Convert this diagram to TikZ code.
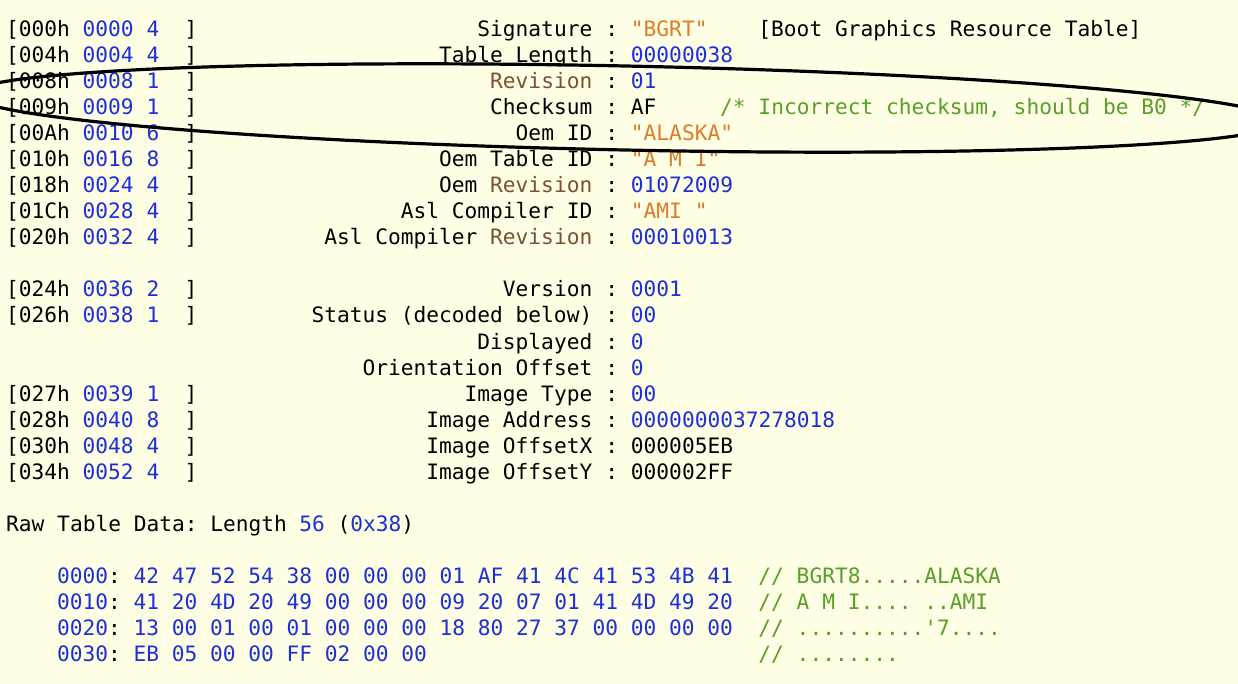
\documentclass[tikz,border=0pt]{standalone}
\usepackage{fontspec}
\setmonofont{DejaVu Sans Mono}
\definecolor{bg}{HTML}{FFFFE6}
\definecolor{hb}{HTML}{1F2FD8}
\definecolor{ho}{HTML}{E07A28}
\definecolor{hr}{HTML}{7A5030}
\definecolor{hg}{HTML}{5A9E28}
\newcommand\tx[4]{\node[anchor=base west,inner sep=0,text=#3] at ({6+12.75*#1},{-(37+26*#2)}) {#4};}
\newcommand\nm[2]{\node[anchor=base east,inner sep=0] at ({6+12.75*46},{-(37+26*#1)}) {#2};\tx{47}{#1}{black}{:}}
\newcommand\lf[3]{\tx{0}{#1}{black}{[#2}\tx{6}{#1}{hb}{#3}\tx{14}{#1}{black}{]}}
\begin{document}
\begin{tikzpicture}[x=1pt,y=1pt,font=\ttfamily\fontsize{21.2}{26}\selectfont]
\fill[bg] (0,0) rectangle (1238,-684);
\useasboundingbox (0,0) rectangle (1238,-684);
% left column
\lf{0}{000h}{0000   4}\lf{1}{004h}{0004   4}\lf{2}{008h}{0008   1}\lf{3}{009h}{0009   1}
\lf{4}{00Ah}{0010   6}\lf{5}{010h}{0016   8}\lf{6}{018h}{0024   4}\lf{7}{01Ch}{0028   4}
\lf{8}{020h}{0032   4}\lf{10}{024h}{0036   2}\lf{11}{026h}{0038   1}\lf{14}{027h}{0039   1}
\lf{15}{028h}{0040   8}\lf{16}{030h}{0048   4}\lf{17}{034h}{0052   4}
% names
\nm{0}{Signature}\nm{1}{Table Length}\nm{2}{\textcolor{hr}{Revision}}\nm{3}{Checksum}
\nm{4}{Oem ID}\nm{5}{Oem Table ID}\nm{6}{Oem \textcolor{hr}{Revision}}\nm{7}{Asl Compiler ID}
\nm{8}{Asl Compiler \textcolor{hr}{Revision}}\nm{10}{Version}\nm{11}{Status (decoded below)}
\nm{12}{Displayed}\nm{13}{Orientation Offset}\nm{14}{Image Type}\nm{15}{Image Address}
\nm{16}{Image OffsetX}\nm{17}{Image OffsetY}
% values
\tx{49}{0}{ho}{"BGRT"}\tx{59}{0}{black}{[Boot Graphics Resource Table]}
\tx{49}{1}{hb}{00000038}\tx{49}{2}{hb}{01}\tx{49}{3}{black}{AF}
\tx{56}{3}{hg}{/* Incorrect checksum, should be B0 */}
\tx{49}{4}{ho}{"ALASKA"}\tx{49}{5}{ho}{"A M I"}\tx{49}{6}{hb}{01072009}
\tx{49}{7}{ho}{"AMI\ "}\tx{49}{8}{hb}{00010013}\tx{49}{10}{hb}{0001}\tx{49}{11}{hb}{00}
\tx{49}{12}{hb}{0}\tx{49}{13}{hb}{0}\tx{49}{14}{hb}{00}\tx{49}{15}{hb}{0000000037278018}
\tx{49}{16}{black}{000005EB}\tx{49}{17}{black}{000002FF}
% raw
\tx{0}{19}{black}{Raw Table Data: Length}\tx{23}{19}{hb}{56}\tx{26}{19}{black}{(}\tx{27}{19}{hb}{0x38}\tx{31}{19}{black}{)}
\foreach \r/\o/\bytes/\c in {21/0000/{42,47,52,54,38,00,00,00,01,AF,41,4C,41,53,4B,41}/{// BGRT8.....ALASKA},
  22/0010/{41,20,4D,20,49,00,00,00,09,20,07,01,41,4D,49,20}/{// A M I.... ..AMI},
  23/0020/{13,00,01,00,01,00,00,00,18,80,27,37,00,00,00,00}/{// ..........'7....},
  24/0030/{EB,05,00,00,FF,02,00,00}/{// ........}}{
  \tx{4}{\r}{hb}{\o}\tx{8}{\r}{black}{:}
  \foreach \b [count=\k from 0] in \bytes {
    \pgfmathparse{int(10+3*\k)}\let\cc\pgfmathresult
    \if\ifnum0<0\fi\fi
    \def\col{hb}%
    \expandafter\ifx\csname isl@\b\endcsname\relax\else\def\col{black}\fi
    \tx{\cc}{\r}{\col}{\b}
  }
  \tx{59}{\r}{hg}{\c}
}
\draw[line width=3.2pt,rotate around={-1.2:(625,-108)}] (625,-108) ellipse [x radius=655, y radius=42];
\end{tikzpicture}
\end{document}
\expandafter\def\csname isl@AF\endcsname{}
